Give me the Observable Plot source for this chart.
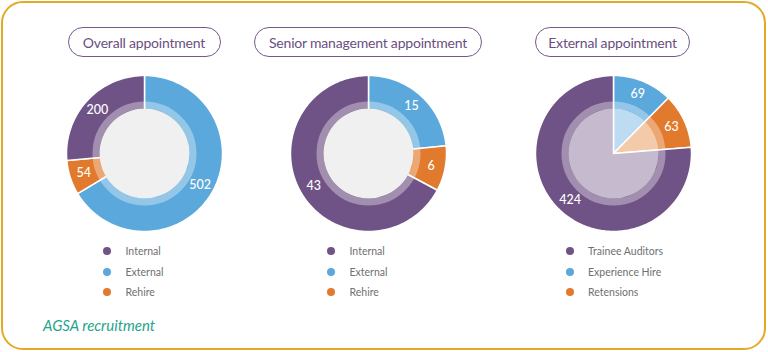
<!DOCTYPE html>
<html><head><meta charset="utf-8">
<script src="https://cdn.jsdelivr.net/npm/d3@7"></script>
<script src="https://cdn.jsdelivr.net/npm/@observablehq/plot@0.6"></script>
<style>
html,body{margin:0;padding:0;background:#fff;}
#frame{position:relative;width:768px;height:352px;overflow:hidden;font-family:Lato,sans-serif;}
#border{position:absolute;left:1px;top:1px;width:765px;height:349px;box-sizing:border-box;border:2px solid #e3a927;border-radius:22px;}
.pill{position:absolute;top:27px;height:30px;box-sizing:border-box;border:1.6px solid #75598c;border-radius:15px;color:#6a4f80;font-size:14px;letter-spacing:-0.2px;display:flex;align-items:center;justify-content:center;white-space:nowrap;}
.panel{position:absolute;top:53px;width:200px;height:200px;}
.panel svg{display:block;}
.legend{position:absolute;top:241px;font-size:10.5px;color:#707070;}
.row{height:20.5px;display:flex;align-items:center;}
.dot{width:8px;height:8px;border-radius:50%;margin-left:-4px;margin-right:14.5px;}
#caption{position:absolute;left:43px;top:316px;font-style:italic;font-size:15px;color:#1fa58c;}
</style></head><body><div id="frame"><div id="border"></div></div>
<script>
// ---- data ----
const titles = ["Overall appointment", "Senior management appointment", "External appointment"];
const overallCategories = ["Internal", "External", "Rehire"];
const overallValues = [200, 502, 54];
const seniorCategories = ["Internal", "External", "Rehire"];
const seniorValues = [43, 15, 6];
const externalCategories = ["Trainee Auditors", "Experience Hire", "Retensions"];
const externalValues = [424, 69, 63];
const seriesColors = ["#705386", "#5ba8dc", "#e17a2c"];
const clockwiseOrder = [1, 2, 0]; // drawing order from 12 o'clock
const captionText = "AGSA recruitment";

// ---- layout ----
const panels = [
  {cx: 144, pillW: 153, cats: overallCategories, vals: overallValues, disc: "#f0f0f0", discOp: 1, legendDx: -37},
  {cx: 368, pillW: 228, cats: seniorCategories, vals: seniorValues, disc: "#f0f0f0", discOp: 1, legendDx: -37},
  {cx: 612.5, pillW: 155, cats: externalCategories, vals: externalValues, disc: "#ffffff", discOp: 0.6, legendDx: -43}
];
const R = 78;
const frame = document.getElementById("frame");

panels.forEach((p, i) => {
  const pill = document.createElement("div");
  pill.className = "pill";
  pill.style.left = (p.cx - p.pillW / 2) + "px";
  pill.style.width = p.pillW + "px";
  pill.textContent = titles[i];
  frame.appendChild(pill);

  const items = clockwiseOrder.map(k => ({key: p.cats[k], value: p.vals[k], color: seriesColors[k]}));
  const arcs = d3.pie().sort(null).value(d => d.value)(items);
  const verts = [];
  arcs.forEach(a => {
    verts.push({key: a.data.key, color: a.data.color, x: 0, y: 0});
    const n = Math.max(2, Math.ceil((a.endAngle - a.startAngle) / (Math.PI / 180)));
    for (let j = 0; j <= n; j++) {
      const t = a.startAngle + (a.endAngle - a.startAngle) * j / n;
      verts.push({key: a.data.key, color: a.data.color, x: Math.sin(t), y: Math.cos(t)});
    }
  });
  const labels = arcs.map(a => {
    const m = (a.startAngle + a.endAngle) / 2;
    return {x: 0.82 * Math.sin(m), y: 0.82 * Math.cos(m), text: String(a.data.value)};
  });

  const chart = Plot.plot({
    width: 200, height: 200,
    margin: 0,
    x: {domain: [-1, 1], range: [100 - R, 100 + R], axis: null},
    y: {domain: [-1, 1], range: [100 + R, 100 - R], axis: null},
    color: {type: "identity"},
    marks: [
      Plot.line(verts, {x: "x", y: "y", z: "key", fill: "color", stroke: "white", strokeWidth: 1.5, curve: "linear-closed"}),
      Plot.dot([{x: 0, y: 0}], {x: "x", y: "y", r: 48.5, fill: "none", stroke: "white", strokeWidth: 7, strokeOpacity: 0.35}),
      Plot.dot([{x: 0, y: 0}], {x: "x", y: "y", r: 45, fill: p.disc, fillOpacity: p.discOp, stroke: "none"}),
      Plot.text(labels, {x: "x", y: "y", text: "text", fill: "white", fontSize: 12.5, fontWeight: 500, fontFamily: "Lato"})
    ]
  });
  const holder = document.createElement("div");
  holder.className = "panel";
  holder.style.left = (p.cx - 100) + "px";
  holder.appendChild(chart);
  frame.appendChild(holder);

  const lg = document.createElement("div");
  lg.className = "legend";
  lg.style.left = (p.cx + p.legendDx) + "px";
  p.cats.forEach((c, k) => {
    const row = document.createElement("div");
    row.className = "row";
    const dot = document.createElement("span");
    dot.className = "dot";
    dot.style.background = seriesColors[k];
    const txt = document.createElement("span");
    txt.textContent = c;
    row.appendChild(dot); row.appendChild(txt);
    lg.appendChild(row);
  });
  frame.appendChild(lg);
});

const cap = document.createElement("div");
cap.id = "caption";
cap.textContent = captionText;
frame.appendChild(cap);
</script>
</body></html>
